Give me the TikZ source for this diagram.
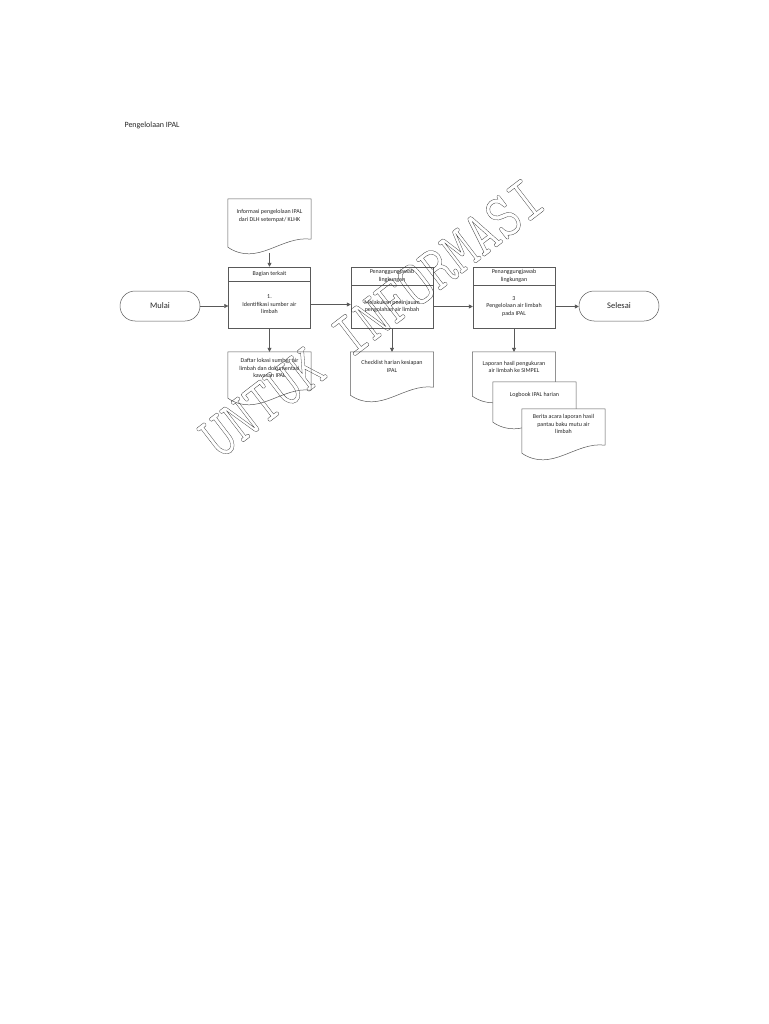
\documentclass[tikz,border=0pt]{standalone}
\usepackage{fontspec}
\setmainfont{Carlito}
\usetikzlibrary{arrows.meta}

% document symbol with wavy bottom, drawn round a named node
\newcommand{\wavydoc}[1]{%
  \filldraw[docline] ([shift={(0,14)}]#1.south west) -- (#1.north west) -- (#1.north east)
    -- ([shift={(0,6)}]#1.south east)
    .. controls +(-30,-4) and +(30,20) .. ([shift={(0,14)}]#1.south west) -- cycle;
  \coordinate (#1-w) at ([shift={(-20,20)}]#1.south);}

\begin{document}
\begin{tikzpicture}
[x=1pt,y=-1pt,
 every node/.style={text=black!85},
 txt/.style={font=\fontsize{6}{7.5}\selectfont,align=center},
 hd/.style={txt,draw=black!65,line width=0.5pt,minimum width=82pt,inner sep=0pt},
 bd/.style={txt,draw=black!65,line width=0.5pt,minimum width=82pt,inner sep=0pt},
 doc/.style={txt,minimum width=83pt,inner sep=0pt},
 docline/.style={draw=black!65,fill=white,line width=0.5pt},
 term/.style={draw=black!65,line width=0.5pt,rounded corners=15pt,minimum width=80pt,
   minimum height=30pt,font=\fontsize{8.5}{10}\selectfont},
 arr/.style={draw=black!65,line width=0.5pt,-{Triangle[length=4pt,width=4pt]}}]
\useasboundingbox[fill=white] (0,0) rectangle (768,1024);

\node[anchor=west,font=\fontsize{8}{9}\selectfont] (title) at (121,125) {Pengelolaan IPAL};

% start / end
\node[term] (mulai) at (160,306) {Mulai};
\node[term] (selesai) at (619,306) {Selesai};

% process boxes
\node[hd,minimum height=14pt] (b1h) at (269.5,274) {Bagian terkait};
\node[bd,minimum height=47pt] (b1) at (269.5,304.5) {1.\\Identifikasi sumber air\\limbah};
\node[hd,minimum height=18pt] (b2h) at (392,276) {Penanggungjawab\\lingkungan};
\node[bd,minimum height=43pt] (b2) at (392,306.5) {Melakukan peninjauan\\pengolahan air limbah};
\node[hd,minimum height=18pt] (b3h) at (514,276) {Penanggungjawab\\lingkungan};
\node[bd,minimum height=43pt] (b3) at (514,306.5) {3\\Pengelolaan air limbah\\pada IPAL};

% documents
\node[doc,minimum height=34pt] (info) at (269.5,216) {};
\wavydoc{info}
\node[txt] at (info) {Informasi pengelolaan IPAL\\dari DLH setempat/ KLHK};
\node[doc,minimum height=32pt] (d1) at (269.5,368) {};
\wavydoc{d1}
\node[txt] at (d1) {Daftar lokasi sumber air\\limbah dan dokumentasi\\kawasan IPAL};
\node[doc,minimum height=29pt] (d2) at (392,366.5) {};
\wavydoc{d2}
\node[txt] at (d2) {Checklist harian kesiapan\\IPAL};
\node[doc,minimum height=30pt] (d3a) at (514,367) {};
\wavydoc{d3a}
\node[txt] at (d3a) {Laporan hasil pengukuran\\air limbah ke SIMPEL};
\node[doc,minimum height=26pt] (d3b) at (534.5,395) {};
\wavydoc{d3b}
\node[txt] at (d3b) {Logbook IPAL harian};
\node[doc,minimum height=30pt] (d3c) at (563.5,424) {};
\wavydoc{d3c}
\node[txt] at (d3c) {Berita acara laporan hasil\\pantau baku mutu air\\limbah};

% connectors
\draw[arr] (mulai.east) -- (mulai.east -| b1.west);
\draw[arr] (b1.east) -- (b1.east -| b2.west);
\draw[arr] (b2.east) -- (b2.east -| b3.west);
\draw[arr] (b3.east) -- (b3.east -| selesai.west);
\draw[arr] (info-w -| b1h) -- (b1h.north);
\draw[arr] (b1.south) -- (d1.north);
\draw[arr] (b2.south) -- (d2.north);
\draw[arr] (b3.south) -- (d3a.north);

% watermark
\node[rotate=37.6,yscale=1.2,transform shape,text=black!80,font=\fontsize{53.7}{54}\ttfamily]
  (mark) at (372,318) {\special{pdf:literal direct 1 Tr 0.25 w}UNTUK INFORMASI\special{pdf:literal direct 0 Tr}};
\end{tikzpicture}
\end{document}
